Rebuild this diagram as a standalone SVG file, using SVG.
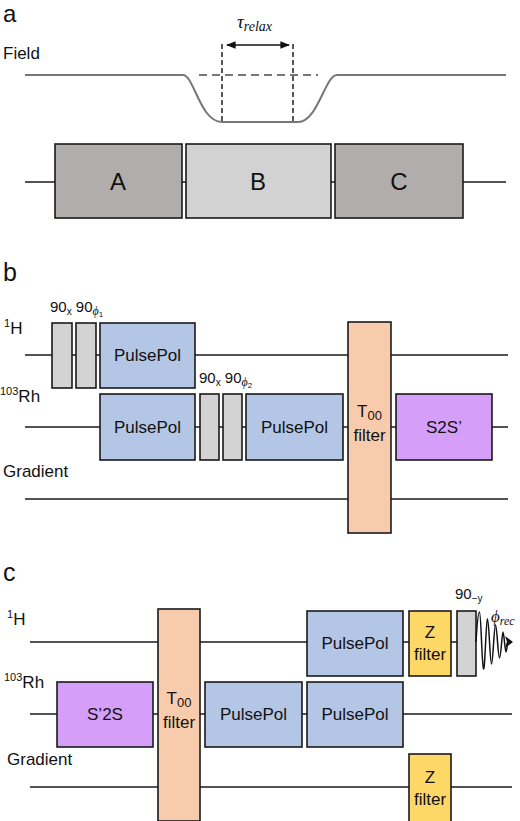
<svg xmlns="http://www.w3.org/2000/svg" width="520" height="821" viewBox="0 0 520 821">
<style>
text{font-family:"Liberation Sans",Arial,sans-serif;fill:#111;}
.lbl{font-size:17px;}
.pl{font-size:25px;}
.bx{font-size:17px;text-anchor:middle;}
.sm{font-size:15px;}
.ph{font-family:"Liberation Serif","DejaVu Serif",serif;font-style:italic;fill:#111;}
.ln{stroke:#1a1a1a;stroke-width:1.5;fill:none;}
.box{stroke:#1a1a1a;stroke-width:1.6;}
.gray{fill:#d4d3d3;}
.pp{fill:#b4c6e6;}
.t00{fill:#f8cbad;}
.s2s{fill:#d59ef8;}
.zf{fill:#fed866;}
</style>
<defs>
<marker id="ah" viewBox="0 0 10 10" refX="9" refY="5" markerWidth="6" markerHeight="6" orient="auto-start-reverse"><path d="M0,1 L10,5 L0,9 z" fill="#111"/></marker>
</defs>
<rect width="520" height="821" fill="#fff"/>

<!-- Panel a -->
<text class="pl" x="3" y="22" style="font-size:24px">a</text>
<text class="lbl" x="3" y="59">Field</text>
<g id="field">
<path d="M25,75 H183 C194,75 200,122 222,122 H298 C318,122 325,75 337,75 H506" stroke="#777" stroke-width="2" fill="none"/>
<line x1="199" y1="75" x2="318" y2="75" stroke="#777" stroke-width="1.8" stroke-dasharray="8,5"/>
<line x1="222" y1="44" x2="222" y2="122" stroke="#111" stroke-width="1.4" stroke-dasharray="5,3"/>
<line x1="293" y1="44" x2="293" y2="122" stroke="#111" stroke-width="1.4" stroke-dasharray="5,3"/>
<line x1="227" y1="45" x2="289" y2="45" stroke="#111" stroke-width="1.6" marker-start="url(#ah)" marker-end="url(#ah)"/>
<text x="237" y="28" class="ph" style="font-size:19px">τ<tspan font-size="14" dy="3">relax</tspan></text>
</g>
<g id="conn-a"><line class="ln" x1="25" y1="182" x2="506" y2="182"/></g>
<g id="A"><rect class="box" x="55" y="144" width="127" height="74" fill="#b0adac"/><text class="bx" x="118" y="190" style="font-size:24px">A</text></g>
<g id="B"><rect class="box" x="186" y="144" width="145" height="74" fill="#d3d2d2"/><text class="bx" x="258" y="190" style="font-size:24px">B</text></g>
<g id="C"><rect class="box" x="335" y="144" width="128" height="74" fill="#b0adac"/><text class="bx" x="399" y="190" style="font-size:24px">C</text></g>

<!-- Panel b -->
<text class="pl" x="3" y="281">b</text>
<text class="lbl" x="4" y="334"><tspan font-size="11" dy="-7">1</tspan><tspan dy="7">H</tspan></text>
<text class="lbl" x="0" y="402"><tspan font-size="11" dy="-7">103</tspan><tspan dy="7">Rh</tspan></text>
<text class="lbl" x="3" y="477">Gradient</text>
<g id="conn-b">
<line class="ln" x1="25" y1="355" x2="508" y2="355"/>
<line class="ln" x1="25" y1="427" x2="508" y2="427"/>
<line class="ln" x1="25" y1="499" x2="508" y2="499"/>
</g>
<g id="b-90x-H"><rect class="box gray" x="52" y="323" width="20" height="65"/></g>
<g id="b-90phi1-H"><rect class="box gray" x="76" y="323" width="20" height="65"/></g>
<text class="sm" x="50" y="312">90<tspan font-size="10" dy="3">x</tspan><tspan dy="-3"> 90</tspan><tspan class="ph" font-size="12" dy="3">ϕ</tspan><tspan font-size="8" dy="2">1</tspan></text>
<g id="b-pp-H"><rect class="box pp" x="100" y="323" width="95" height="65"/><text class="bx" x="147.5" y="361">PulsePol</text></g>
<g id="b-pp-Rh1"><rect class="box pp" x="100" y="394" width="95" height="66"/><text class="bx" x="147.5" y="433">PulsePol</text></g>
<g id="b-90x-Rh"><rect class="box gray" x="200" y="394" width="19" height="66"/></g>
<g id="b-90phi2-Rh"><rect class="box gray" x="223" y="394" width="19" height="66"/></g>
<text class="sm" x="199" y="383">90<tspan font-size="10" dy="3">x</tspan><tspan dy="-3"> 90</tspan><tspan class="ph" font-size="12" dy="3">ϕ</tspan><tspan font-size="8" dy="2">2</tspan></text>
<g id="b-pp-Rh2"><rect class="box pp" x="246" y="394" width="97" height="66"/><text class="bx" x="294.5" y="433">PulsePol</text></g>
<g id="b-t00"><rect class="box t00" x="348" y="322" width="43" height="211"/><text class="bx" x="369.5" y="417">T<tspan font-size="13" dy="3">00</tspan></text><text class="bx" x="369.5" y="441">filter</text></g>
<g id="b-s2s"><rect class="box s2s" x="396" y="394" width="96" height="66"/><text class="bx" x="444" y="433">S2S’</text></g>

<!-- Panel c -->
<text class="pl" x="3" y="581">c</text>
<text class="lbl" x="7" y="625"><tspan font-size="11" dy="-7">1</tspan><tspan dy="7">H</tspan></text>
<text class="lbl" x="4" y="688"><tspan font-size="11" dy="-7">103</tspan><tspan dy="7">Rh</tspan></text>
<text class="lbl" x="7" y="765">Gradient</text>
<g id="conn-c">
<line class="ln" x1="30" y1="642" x2="457" y2="642"/>
<line class="ln" x1="30" y1="714" x2="512" y2="714"/>
<line class="ln" x1="30" y1="787" x2="512" y2="787"/>
</g>
<g id="c-s2s"><rect class="box s2s" x="57" y="682" width="96" height="65"/><text class="bx" x="105" y="720">S’2S</text></g>
<g id="c-t00"><rect class="box t00" x="158" y="609" width="42" height="212"/><text class="bx" x="179" y="704">T<tspan font-size="13" dy="3">00</tspan></text><text class="bx" x="179" y="728">filter</text></g>
<g id="c-pp-Rh1"><rect class="box pp" x="205" y="682" width="97" height="65"/><text class="bx" x="253.5" y="720">PulsePol</text></g>
<g id="c-pp-Rh2"><rect class="box pp" x="307" y="682" width="96" height="65"/><text class="bx" x="355" y="720">PulsePol</text></g>
<g id="c-pp-H"><rect class="box pp" x="307" y="611" width="96" height="65"/><text class="bx" x="355" y="649">PulsePol</text></g>
<g id="c-zf-H"><rect class="box zf" x="409" y="611" width="42" height="65"/><text class="bx" x="430" y="638">Z</text><text class="bx" x="430" y="660">filter</text></g>
<g id="c-90y"><rect class="box gray" x="457" y="611" width="19" height="65"/></g>
<text class="sm" x="455" y="599">90<tspan font-size="10" dy="3">−y</tspan></text>
<g id="c-fid">
<path d="M476,642 C477,625 478,612 479.5,612 C481,612 482,668 483.5,669 C485,670 486,620 487.5,619 C489,619 490,664 491.5,664 C493,664 494,625 495.5,625 C497,625 498,658 499.5,658 C501,658 502,632 503,632 C504,632 505,652 506,652 C507,652 507.5,638 508.5,640 C509,642 510,642 512,642" stroke="#111" stroke-width="1.5" fill="none"/>
<path d="M505,636 L513,642 L505,648 L507,642 z" fill="#111"/>
<text x="491" y="622" class="ph" style="font-size:17px">ϕ<tspan font-size="12" dy="3">rec</tspan></text>
</g>
<g id="c-zf-G"><rect class="box zf" x="409" y="754" width="42" height="70"/><text class="bx" x="430" y="805">filter</text><text class="bx" x="430" y="783">Z</text></g>
</svg>
